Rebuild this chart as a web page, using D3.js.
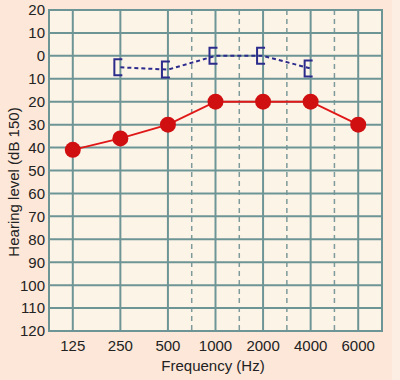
<!DOCTYPE html>
<html><head><meta charset="utf-8">
<script src="https://cdn.jsdelivr.net/npm/d3@7"></script>
<style>html,body{margin:0;padding:0;background:#fce7d8;}svg{display:block;}</style>
</head><body><svg id="c" width="400" height="380"></svg>
<script>
const frequencies = ["125","250","500","1000","2000","4000","6000"];
const midFrequencies = ["750","1500","3000","5000"];
const airConduction = [41, 36, 30, 20, 20, 20, 30];
const boneFreqs = ["250","500","1000","2000","4000"];
const boneConduction = [5, 6, 0, 0, 5.5];
const yTicks = [-20,-10,0,10,20,30,40,50,60,70,80,90,100,110,120];

const svg = d3.select("#c");
const L=49, R=382, T=10, B=331;
svg.append("rect").attr("x",0).attr("y",0).attr("width",400).attr("height",380).attr("fill","#fce7d8");
svg.append("rect").attr("x",392).attr("y",0).attr("width",8).attr("height",380).attr("fill","#fdeee4");
svg.append("rect").attr("x",L).attr("y",T).attr("width",R-L).attr("height",B-T).attr("fill","#fdf4e8");

const x = d3.scaleBand().domain(frequencies).range([L,R]);
const xc = f => x(f)+x.bandwidth()/2;
const y = d3.scaleLinear().domain([-20,120]).range([T,B]);
const grid="#6e9595";

// dashed mid lines
svg.append("g").selectAll("line").data(midFrequencies.slice(0,4)).join("line")
  .attr("x1",(d,i)=>(xc(frequencies[i+2])+xc(frequencies[i+3]))/2)
  .attr("x2",(d,i)=>(xc(frequencies[i+2])+xc(frequencies[i+3]))/2)
  .attr("y1",T).attr("y2",B).attr("stroke","#7e9a9a").attr("stroke-width",1.5).attr("stroke-dasharray","5,4");

// horizontal grid
svg.append("g").selectAll("line").data(yTicks).join("line")
  .attr("x1",L).attr("x2",R).attr("y1",d=>y(d)).attr("y2",d=>y(d))
  .attr("stroke",grid).attr("stroke-width",2);
// vertical grid
svg.append("g").selectAll("line").data(frequencies).join("line")
  .attr("x1",d=>xc(d)).attr("x2",d=>xc(d)).attr("y1",T).attr("y2",B)
  .attr("stroke",grid).attr("stroke-width",2);
svg.append("rect").attr("x",L).attr("y",T).attr("width",R-L).attr("height",B-T)
  .attr("fill","none").attr("stroke",grid).attr("stroke-width",2);

// y labels
svg.append("g").selectAll("text").data(yTicks).join("text")
  .attr("x",45).attr("y",d=>y(d)).attr("dy","0.36em").attr("text-anchor","end")
  .attr("font-family","Liberation Sans, Arial, sans-serif").attr("font-size",15).attr("fill","#222")
  .text(d=>Math.abs(d));
// x labels
svg.append("g").selectAll("text").data(frequencies).join("text")
  .attr("x",d=>xc(d)).attr("y",351).attr("text-anchor","middle")
  .attr("font-family","Liberation Sans, Arial, sans-serif").attr("font-size",15).attr("fill","#222")
  .text(d=>d);
svg.append("text").attr("x",213).attr("y",371).attr("text-anchor","middle")
  .attr("font-family","Liberation Sans, Arial, sans-serif").attr("font-size",15).attr("fill","#222")
  .text("Frequency (Hz)");
svg.append("text").attr("transform","translate(19,182) rotate(-90)").attr("text-anchor","middle")
  .attr("font-family","Liberation Sans, Arial, sans-serif").attr("font-size",15).attr("fill","#222")
  .text("Hearing level (dB 150)");

// bone conduction
const bone = boneFreqs.map((f,i)=>({f, v:boneConduction[i]}));
svg.append("path").datum(bone)
  .attr("d", d3.line().x(d=>xc(d.f)).y(d=>y(d.v)))
  .attr("fill","none").attr("stroke","#2b2b8c").attr("stroke-width",2).attr("stroke-dasharray","4,3");
svg.append("g").selectAll("path").data(bone).join("path")
  .attr("d", d=>{const cx=xc(d.f)-6, cy=y(d.v); return `M${cx+8},${cy-8}H${cx}V${cy+8}H${cx+8}`;})
  .attr("fill","none").attr("stroke","#2b2b8c").attr("stroke-width",2);

// air conduction
const air = frequencies.map((f,i)=>({f, v:airConduction[i]}));
svg.append("path").datum(air)
  .attr("d", d3.line().x(d=>xc(d.f)).y(d=>y(d.v)))
  .attr("fill","none").attr("stroke","#e01818").attr("stroke-width",2);
svg.append("g").selectAll("circle").data(air).join("circle")
  .attr("cx",d=>xc(d.f)).attr("cy",d=>y(d.v)).attr("r",8).attr("fill","#d01010");
</script></body></html>
